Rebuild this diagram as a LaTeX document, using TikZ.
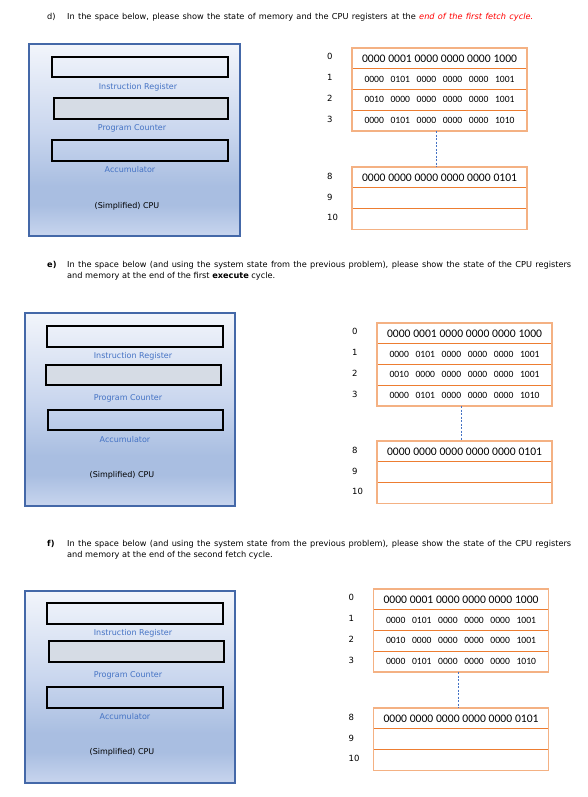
\documentclass[tikz,border=0pt]{standalone}
\usepackage{fontspec}
\setmainfont{DejaVu Sans}
\newfontfamily\memfont{Carlito}
\usetikzlibrary{positioning}
\definecolor{cpuborder}{HTML}{4468A8}
\definecolor{reglbl}{HTML}{4472C4}
\definecolor{pcfill}{HTML}{D6DCE5}
\definecolor{memouterc}{HTML}{F4B183}
\definecolor{memline}{HTML}{ED7D31}
\definecolor{dashblue}{HTML}{4472C4}
\definecolor{hdrred}{HTML}{FF0000}
\definecolor{cpuA}{HTML}{F2F5FB}
\definecolor{cpuB}{HTML}{C9D6EE}
\definecolor{cpuC}{HTML}{A9BEE1}
\definecolor{cpuD}{HTML}{C8D5EE}
\pgfdeclareverticalshading{cpushade}{100bp}{color(0bp)=(cpuD); color(25bp)=(cpuD); color(33bp)=(cpuC); color(38bp)=(cpuC); color(52bp)=(cpuB); color(75bp)=(cpuA); color(100bp)=(cpuA)}
\newcommand{\bigrow}[1]{{\memfont\fontsize{11.6}{12}\selectfont\makebox[155pt][s]{#1}}}
\newcommand{\smallrow}[1]{{\memfont\fontsize{9.6}{11}\selectfont\makebox[150pt][s]{#1}}}
\tikzset{
 cpu/.style={draw=cpuborder, line width=1.6pt, shading=cpushade, inner sep=0pt, outer sep=0pt},
 reg/.style={draw=black, line width=1.1pt, inner sep=0pt},
 pcreg/.style={reg, fill=pcfill},
 reglabel/.style={font=\fontsize{8}{9}\selectfont, text=reglbl, inner sep=0pt},
 cpulabel/.style={font=\fontsize{8}{9}\selectfont, text=black, inner sep=0pt},
 cell/.style={draw=memline, line width=0.8pt, minimum width=175pt, minimum height=20.75pt, inner sep=0pt, outer sep=0pt},
 memframe/.style={draw=memouterc, line width=1.4pt},
 addr/.style={font=\fontsize{8.5}{9}\selectfont, anchor=west, inner sep=0pt},
 conn/.style={draw=dashblue, line width=0.7pt, dash pattern=on 2pt off 1.5pt},
 hdr/.style={font=\fontsize{8.2}{9.6}\selectfont, anchor=base west, inner sep=0pt},
}
\newcommand{\memblock}[4]{%
 \node[cell] (#1-0) at (#2,{#3+10.375}) {\bigrow{0000 0001 0000 0000 0000 1000}};
 \node[cell, below=0pt of #1-0] (#1-1) {\smallrow{0000 0101 0000 0000 0000 1001}};
 \node[cell, below=0pt of #1-1] (#1-2) {\smallrow{0010 0000 0000 0000 0000 1001}};
 \node[cell, below=0pt of #1-2] (#1-3) {\smallrow{0000 0101 0000 0000 0000 1010}};
 \node[cell] (#1-8) at (#2,{#4+10.375}) {\bigrow{0000 0000 0000 0000 0000 0101}};
 \node[cell, below=0pt of #1-8] (#1-9) {};
 \node[cell, below=0pt of #1-9] (#1-10) {};
 \draw[memframe] (#1-0.north west) rectangle (#1-3.south east);
 \draw[memframe] (#1-8.north west) rectangle (#1-10.south east);
 \draw[conn] ([xshift=-3pt]#1-3.south) -- ([xshift=-3pt]#1-8.north);
 \node[addr] (#1-a0) at ([xshift=-25pt,yshift=1.5pt]#1-0.west) {0};
 \node[addr] (#1-a1) at ([xshift=-25pt,yshift=1.5pt]#1-1.west) {1};
 \node[addr] (#1-a2) at ([xshift=-25pt,yshift=1.5pt]#1-2.west) {2};
 \node[addr] (#1-a3) at ([xshift=-25pt,yshift=1.5pt]#1-3.west) {3};
 \node[addr] (#1-a8) at ([xshift=-25pt,yshift=1pt]#1-8.west) {8};
 \node[addr] (#1-a9) at ([xshift=-25pt,yshift=1pt]#1-9.west) {9};
 \node[addr] (#1-a10) at ([xshift=-25pt,yshift=1pt]#1-10.west) {10};
}
\begin{document}
\begin{tikzpicture}[x=1pt,y=-1pt]
\useasboundingbox[fill=white] (0,0) rectangle (587,797);

% ---------- d ----------
\node[hdr] (dlbl) at (47,20) {d)};
\node[hdr] (dtxt) at (67,20) {\makebox[466pt][s]{In the space below, please show the state of memory and the CPU registers at the \textcolor{hdrred}{\itshape end of the first fetch cycle.}}};
\node[cpu, minimum width=211pt, minimum height=192pt] (dcpu) at (134.5,140) {};
\node[reg, minimum width=176pt, minimum height=20pt] (dir) at (140,67) {};
\node[reglabel] (dirl) at (138,87) {Instruction Register};
\node[pcreg, minimum width=174pt, minimum height=21pt] (dpc) at (141,108.5) {};
\node[reglabel] (dpcl) at (132,128) {Program Counter};
\node[reg, minimum width=176pt, minimum height=21pt] (dacc) at (140,150.5) {};
\node[reglabel] (daccl) at (130,170) {Accumulator};
\node[cpulabel] (dcpul) at (127,206) {(Simplified) CPU};
\memblock{dm}{439.5}{48}{167}

% ---------- e ----------
\node[hdr] (elbl) at (47,267) {\textbf{e)}};
\node[hdr] (etxt1) at (67,267) {\makebox[504pt][s]{In the space below (and using the system state from the previous problem), please show the state of the CPU registers}};
\node[hdr] (etxt2) at (67,278) {and memory at the end of the first \textbf{execute} cycle.};
\node[cpu, minimum width=210pt, minimum height=193pt] (ecpu) at (130,409.5) {};
\node[reg, minimum width=176pt, minimum height=21pt] (eir) at (135,336.5) {};
\node[reglabel] (eirl) at (133,356) {Instruction Register};
\node[pcreg, minimum width=175pt, minimum height=20pt] (epc) at (133.5,375) {};
\node[reglabel] (epcl) at (128,398) {Program Counter};
\node[reg, minimum width=175pt, minimum height=20pt] (eacc) at (135.5,420) {};
\node[reglabel] (eaccl) at (125,440) {Accumulator};
\node[cpulabel] (ecpul) at (122,475) {(Simplified) CPU};
\memblock{em}{464.5}{323}{441}

% ---------- f ----------
\node[hdr] (flbl) at (47,546) {\textbf{f)}};
\node[hdr] (ftxt1) at (67,546) {\makebox[504pt][s]{In the space below (and using the system state from the previous problem), please show the state of the CPU registers}};
\node[hdr] (ftxt2) at (67,557) {and memory at the end of the second fetch cycle.};
\node[cpu, minimum width=210pt, minimum height=192pt] (fcpu) at (130,687) {};
\node[reg, minimum width=176pt, minimum height=21pt] (fir) at (135,613.5) {};
\node[reglabel] (firl) at (133,633) {Instruction Register};
\node[pcreg, minimum width=175pt, minimum height=21pt] (fpc) at (136.5,651.5) {};
\node[reglabel] (fpcl) at (128,675) {Program Counter};
\node[reg, minimum width=176pt, minimum height=21pt] (facc) at (135,697.5) {};
\node[reglabel] (faccl) at (125,717) {Accumulator};
\node[cpulabel] (fcpul) at (122,752) {(Simplified) CPU};
\memblock{fm}{461}{589}{708}
\end{tikzpicture}
\end{document}
